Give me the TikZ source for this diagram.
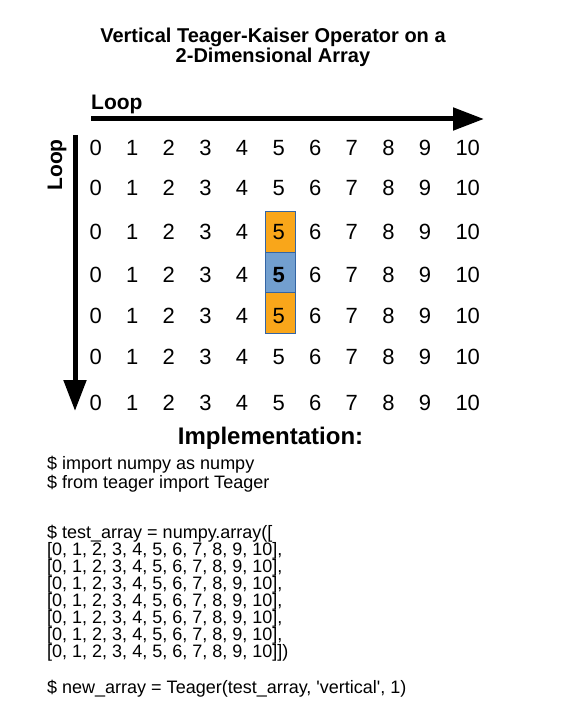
\documentclass[tikz,border=0pt]{standalone}
\usepackage{fontspec}
\setmainfont{Liberation Sans}
\usetikzlibrary{arrows.meta}
\definecolor{cellorange}{HTML}{F9A61A}
\definecolor{cellblue}{HTML}{729FCF}
\definecolor{celledge}{HTML}{3465A4}
\tikzstyle{num}=[inner sep=0pt, anchor=base west, font=\fontsize{22}{22}\selectfont]
\tikzstyle{cell}=[draw=celledge, line width=0.8pt, minimum width=30pt, minimum height=40.5pt, inner sep=0pt]
\tikzstyle{codeline}=[inner sep=0pt, anchor=base west, align=left, font=\fontsize{18}{17}\selectfont]
\tikzstyle{loop}=[line width=5pt, -{Triangle[length=31pt, width=22pt]}]

\begin{document}
\begin{tikzpicture}[x=1pt, y=-1pt]
    \useasboundingbox (0,0) rectangle (560,711);
    % title
    \node[inner sep=0pt, anchor=base, align=center, font=\fontsize{20}{18.7}\selectfont\bfseries] (title) at (273,62.7)
        {Vertical Teager-Kaiser Operator on a\\2-Dimensional Array};
    % highlighted column cells
    \node[cell, fill=cellorange] (above) at (280,232) {};
    \node[cell, fill=cellblue] (centre) at (280,272.5) {};
    \node[cell, fill=cellorange] (below) at (280,313) {};
    % the array
    \foreach \r/\yb in {1/156, 2/196, 3/240, 4/282, 5/323, 6/364, 7/410} {
        \foreach \c in {0,...,10} {
            \ifnum\r=4 \ifnum\c=5
                \node[num, font=\fontsize{22}{22}\selectfont\bfseries] (n-\r-\c) at (89.3+36.6*\c,\yb) {\c};
            \else
                \node[num] (n-\r-\c) at (89.3+36.6*\c,\yb) {\c};
            \fi \else
                \node[num] (n-\r-\c) at (89.3+36.6*\c,\yb) {\c};
            \fi
        }
    }
    % loop arrows
    \coordinate (hstart) at (91,119);
    \coordinate (hend) at (484,119);
    \coordinate (vstart) at (75,135);
    \coordinate (vend) at (75,411);
    \draw[loop] (hstart) -- (hend);
    \draw[loop] (vstart) -- (vend);
    \node[inner sep=0pt, anchor=base west, font=\fontsize{21}{21}\selectfont\bfseries] (hloop) at (91,110) {Loop};
    \node[inner sep=0pt, rotate=90, anchor=base, font=\fontsize{21}{21}\selectfont\bfseries] (vloop) at (62,165) {Loop};
    % implementation
    \node[inner sep=0pt, anchor=base, font=\fontsize{24}{24}\selectfont\bfseries] (impl) at (270.5,444) {Implementation:};
    \node[codeline] (imports) at (47,488) {\$ import numpy as numpy\\\$ from teager import Teager};
    \node[codeline] (testarr) at (47,657) {\$ test\_array = numpy.array({[}\\
        {[}0, 1, 2, 3, 4, 5, 6, 7, 8, 9, 10],\\
        {[}0, 1, 2, 3, 4, 5, 6, 7, 8, 9, 10],\\
        {[}0, 1, 2, 3, 4, 5, 6, 7, 8, 9, 10],\\
        {[}0, 1, 2, 3, 4, 5, 6, 7, 8, 9, 10],\\
        {[}0, 1, 2, 3, 4, 5, 6, 7, 8, 9, 10],\\
        {[}0, 1, 2, 3, 4, 5, 6, 7, 8, 9, 10],\\
        {[}0, 1, 2, 3, 4, 5, 6, 7, 8, 9, 10]])};
    \node[codeline] (newarr) at (47,693) {\$ new\_array = Teager(test\_array, \textquotesingle vertical\textquotesingle, 1)};
\end{tikzpicture}
\end{document}
